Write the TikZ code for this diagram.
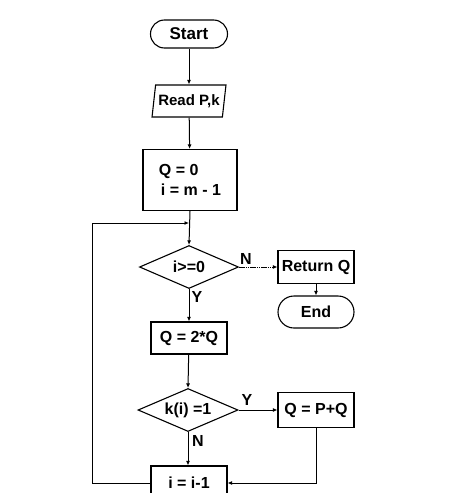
\documentclass[tikz,border=0pt]{standalone}
\usepackage{fontspec}
\setmainfont{Liberation Sans}
\usetikzlibrary{shapes.geometric,arrows.meta}
\begin{document}
\begin{tikzpicture}[x=1pt,y=-1pt,
  every node/.style={font=\bfseries\fontsize{16}{18}\selectfont, inner sep=0pt},
  box/.style={draw, line width=1.1pt, rectangle},
  term/.style={draw, line width=1.1pt, rectangle, rounded corners=14pt},
  io/.style={draw, line width=1.1pt, trapezium, trapezium left angle=76, trapezium right angle=104, trapezium stretches=true},
  dec/.style={draw, line width=1.1pt, diamond, aspect=2.3},
  arr/.style={line width=1pt, -{Latex[length=4.5pt,width=4pt]}},
  lbl/.style={font=\bfseries\fontsize{16}{18}\selectfont}
]
\useasboundingbox (0,0) rectangle (474,493);
\node[term, minimum width=77pt, minimum height=28pt, font=\bfseries\fontsize{17}{19}\selectfont] (start) at (189,34) {Start};
\node[io, minimum width=74pt, minimum height=32pt, font=\bfseries\fontsize{15}{17}\selectfont] (read) at (189,101) {Read P,k};
\node[box, minimum width=94pt, minimum height=61pt, align=left, font=\bfseries\fontsize{16}{20}\selectfont] (q0) at (190,180) {Q = 0\\\hspace{2pt}i = m - 1};
\node[dec, minimum width=99pt, minimum height=43pt] (d1) at (189,267) {i>=0};
\node[box, minimum width=76pt, minimum height=33pt] (ret) at (316,267) {Return Q};
\node[term, minimum width=76pt, minimum height=32pt, rounded corners=16pt] (end) at (316,312) {End};
\node[box, minimum width=76pt, minimum height=32pt] (q2) at (189,338) {Q = 2*Q};
\node[dec, minimum width=100pt, minimum height=43pt] (d2) at (188,410) {k(i) =1};
\node[box, minimum width=76pt, minimum height=35pt] (qpq) at (316,410) {Q = P+Q};
\node[box, minimum width=76pt, minimum height=34pt] (dm) at (189,483) {i = i-1};
\coordinate (j) at (189,223);
\coordinate (lc) at (92,223);
\draw[arr] (start) -- (read);
\draw[arr] (read) -- (q0);
\draw[arr] (q0.south) -- (d1.north);
\draw[arr, dash pattern=on 1.5pt off 0.7pt] (d1.east) -- (ret.west);
\node[lbl] (ln1) at (246,259) {N};
\draw[arr] (ret) -- (end);
\draw[arr] (d1.south) -- (q2.north);
\node[lbl] (ly1) at (197,297) {Y};
\draw[arr] (q2) -- (d2.north);
\draw[arr] (d2.east) -- (qpq.west);
\node[lbl] (ly2) at (247,400) {Y};
\draw[arr] (d2.south) -- (dm.north -| d2.south);
\node[lbl] (ln2) at (198,441) {N};
\draw[arr] (qpq.south) |- (dm.east);
\draw[arr] (dm.west) -| (lc) -- (j);
\end{tikzpicture}
\end{document}
